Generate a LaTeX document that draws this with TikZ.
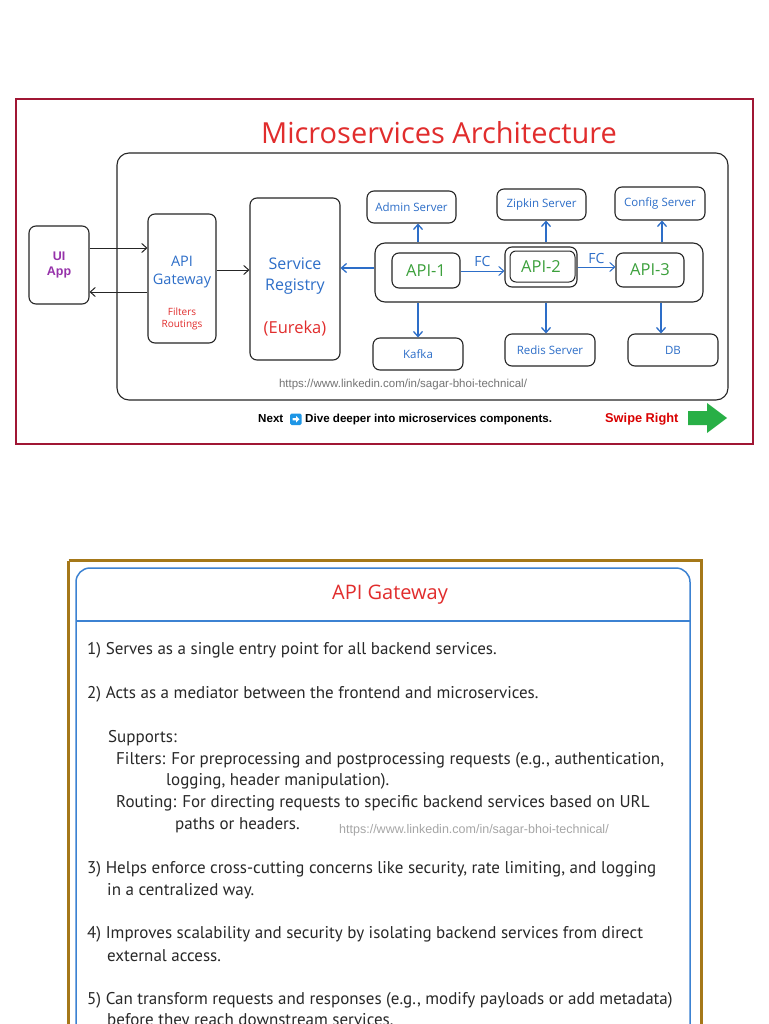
\documentclass[tikz,border=0pt]{standalone}
\usepackage{fontspec}
\setmainfont{PT Sans}
\newfontfamily\hand{Open Sans}
\newfontfamily\arial{Liberation Sans}
\usetikzlibrary{arrows.meta}
\definecolor{framered}{RGB}{160,22,52}
\definecolor{titlered}{RGB}{225,45,45}
\definecolor{labblue}{RGB}{45,110,200}
\definecolor{labgreen}{RGB}{60,160,60}
\definecolor{labpurple}{RGB}{150,50,170}
\definecolor{goldframe}{RGB}{165,120,25}
\definecolor{panelblue}{RGB}{60,130,210}
\definecolor{bodytext}{RGB}{40,40,40}
\definecolor{swipegreen}{RGB}{40,175,70}
\definecolor{iconblue}{RGB}{30,150,230}
\tikzset{
  box/.style={draw=black!85, line width=1.1pt, rounded corners=7pt, inner sep=0pt, align=center},
  arr/.style={draw=black!85, line width=1pt, -{Straight Barb[length=5pt,width=9pt]}},
  barr/.style={draw=labblue, line width=1.3pt, -{Straight Barb[length=5pt,width=9pt]}},
  svc/.style={box, text=labblue, font=\hand\fontsize{11.5}{13}\selectfont},
  api/.style={box, text=labgreen, font=\hand\fontsize{16.5}{18}\selectfont},
  body/.style={anchor=base west, inner sep=0pt, text=bodytext, font=\fontsize{17}{20}\selectfont},
  url/.style={inner sep=0pt, font=\arial\fontsize{11.5}{13}\selectfont}
}
\begin{document}
\begin{tikzpicture}[x=1pt,y=-1pt]
\useasboundingbox (0,0) rectangle (768,1024);
\fill[white] (0,0) rectangle (768,1024);
\clip (0,0) rectangle (768,1024);

% ---------- top panel ----------
\draw[framered, line width=2pt] (16,99) rectangle (753,444);
\node[text=titlered, font=\hand\fontsize{29}{32}\selectfont, inner sep=0] (title) at (439,133) {Microservices Architecture};

\node[box, rounded corners=12pt, minimum width=611, minimum height=247] (outer) at (422.5,276.5) {};

\node[box, minimum width=60, minimum height=78, text=labpurple, font=\arial\bfseries\fontsize{12.5}{15}\selectfont] (ui) at (59,265) {UI\\App};
\node[box, minimum width=68, minimum height=129] (gw) at (182,278.5) {};
\node[text=labblue, font=\hand\fontsize{14.5}{18}\selectfont, align=center, inner sep=0] (gwlab) at (182,272) {API\\Gateway};
\node[text=titlered, font=\hand\fontsize{10}{12}\selectfont, align=center, inner sep=0] (gwsub) at (182,319) {Filters\\Routings};

\node[box, minimum width=90, minimum height=162] (reg) at (295,279) {};
\node[text=labblue, font=\hand\fontsize{16}{21}\selectfont, align=center, inner sep=0] (reglab) at (295,276) {Service\\Registry};
\node[text=titlered, font=\hand\fontsize{16.5}{18}\selectfont, inner sep=0] (eureka) at (295,329) {(Eureka)};

\node[box, rounded corners=10pt, minimum width=328, minimum height=59] (cont) at (539,272.5) {};
\node[api, minimum width=68, minimum height=35] (api1) at (426,270.5) {API-1};
\node[api, minimum width=72, minimum height=40] (api2) at (541,267) {API-2};
\draw[black!85, line width=1pt, rounded corners=6pt] (510,251) rectangle (575,282);
\node[api, minimum width=68, minimum height=34] (api3) at (650,270) {API-3};

\node[svc, minimum width=89, minimum height=32] (admin) at (411.5,207) {Admin Server};
\node[svc, minimum width=89, minimum height=31] (zipkin) at (541.5,204.5) {Zipkin Server};
\node[svc, minimum width=90, minimum height=33] (config) at (660,203.5) {Config Server};
\node[svc, minimum width=90, minimum height=32] (kafka) at (418,354) {Kafka};
\node[svc, minimum width=90, minimum height=32] (redis) at (550,350) {Redis Server};
\node[svc, minimum width=90, minimum height=32] (db) at (673,350) {DB};

\coordinate (yin) at (0,248);
\coordinate (yout) at (0,292);
\coordinate (yreg) at (0,270);
\coordinate (yreg2) at (0,268);
\draw[arr] (ui.east |- yin) -- (gw.west |- yin);
\draw[arr] (gw.west |- yout) -- (ui.east |- yout);
\draw[arr] (gw.east |- yreg) -- (reg.west |- yreg);
\draw[barr] (cont.west |- yreg2) -- (reg.east |- yreg2);

\coordinate (yfc1) at (0,271);
\coordinate (yfc2) at (0,267);
\draw[barr, line width=1pt] (api1.east |- yfc1) -- (api2.west |- yfc1) node[midway, above=4pt, text=labblue, font=\hand\fontsize{14}{16}\selectfont, inner sep=0] (fc1) {FC};
\draw[barr, line width=1pt] (api2.east |- yfc2) -- (api3.west |- yfc2) node[midway, above=3pt, text=labblue, font=\hand\fontsize{14}{16}\selectfont, inner sep=0] (fc2) {FC};

\coordinate (xadm) at (418,0);
\coordinate (xzip) at (546,0);
\coordinate (xcfg) at (662,0);
\coordinate (xdb) at (661,0);
\draw[barr] (cont.north -| xadm) -- (admin.south -| xadm);
\draw[barr] (cont.north -| xzip) -- (zipkin.south -| xzip);
\draw[barr] (cont.north -| xcfg) -- (config.south -| xcfg);
\draw[barr] (cont.south -| xadm) -- (kafka.north -| xadm);
\draw[barr] (cont.south -| xzip) -- (redis.north -| xzip);
\draw[barr] (cont.south -| xdb) -- (db.north -| xdb);

\node[url, text=black!55] (url1) at (403,385) {https://www.linkedin.com/in/sagar-bhoi-technical/};

\node[anchor=west, inner sep=0, font=\arial\bfseries\fontsize{11.6}{13}\selectfont] (next) at (258,419) {Next};
\fill[iconblue, rounded corners=1.5pt] (290,413.5) rectangle (301.5,425);
\fill[white] (292.5,418.2) -- (296,418.2) -- (296,416) -- (299.5,419.25) -- (296,422.5) -- (296,420.3) -- (292.5,420.3) -- cycle;
\node[anchor=west, inner sep=0, font=\arial\bfseries\fontsize{11.6}{13}\selectfont] (dive) at (305,419) {Dive deeper into microservices components.};
\node[anchor=west, inner sep=0, text=red!85!black, font=\arial\bfseries\fontsize{12.8}{14}\selectfont] (swipe) at (605,419) {Swipe Right};
\fill[swipegreen] (688,411) -- (707,411) -- (707,403) -- (727,418) -- (707,433) -- (707,425) -- (688,425) -- cycle;

% ---------- bottom panel ----------
\draw[goldframe, line width=3pt] (68.5,560.5) -- (701.5,560.5) -- (701.5,1040) (68.5,560.5) -- (68.5,1040);
\draw[panelblue, line width=1.5pt, rounded corners=14pt] (76,1040) -- (76,568) -- (690,568) -- (690,1040);
\draw[panelblue, line width=2pt] (76,621) -- (690,621);
\node[text=titlered, font=\hand\fontsize{20}{22}\selectfont, inner sep=0] (gwtitle) at (390,595) {API Gateway};

\node[body] (l1) at (87,654) {1) Serves as a single entry point for all backend services.};
\node[body] (l2) at (87,698) {2) Acts as a mediator between the frontend and microservices.};
\node[body] (l3) at (108,742) {Supports:};
\node[body] (l4) at (116,764) {Filters: For preprocessing and postprocessing requests (e.g., authentication,};
\node[body] (l5) at (166,785) {logging, header manipulation).};
\node[body] (l6) at (116,807) {Routing: For directing requests to specific backend services based on URL};
\node[body] (l7) at (175,829) {paths or headers.};
\node[url, text=black!35, font=\arial\fontsize{12.5}{14}\selectfont, anchor=west] (url2) at (339,830) {https://www.linkedin.com/in/sagar-bhoi-technical/};
\node[body] (l8) at (87,873) {3) Helps enforce cross-cutting concerns like security, rate limiting, and logging};
\node[body] (l9) at (107,895) {in a centralized way.};
\node[body] (l10) at (87,938) {4) Improves scalability and security by isolating backend services from direct};
\node[body] (l11) at (107,961) {external access.};
\node[body] (l12) at (87,1004) {5) Can transform requests and responses (e.g., modify payloads or add metadata)};
\node[body] (l13) at (107,1025) {before they reach downstream services.};
\end{tikzpicture}
\end{document}
